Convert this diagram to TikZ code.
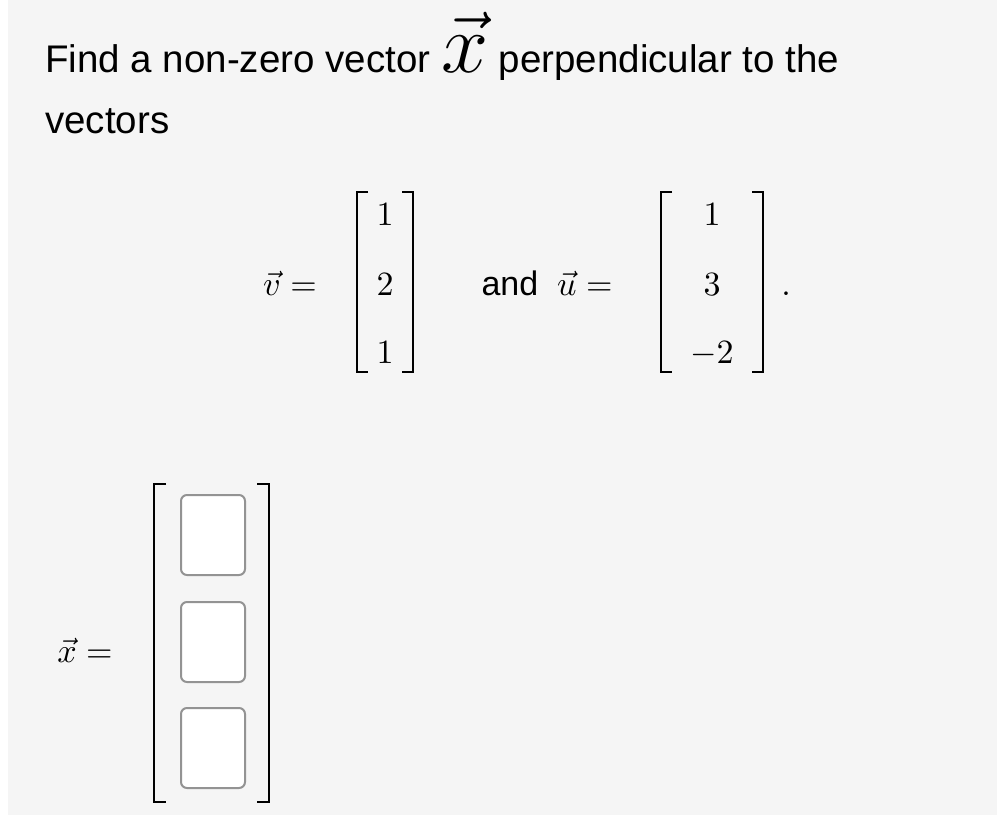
\documentclass[tikz,border=0pt]{standalone}
\usepackage{fontspec}
\usepackage{graphicx}
\setmainfont{Liberation Sans}
\newcommand{\mybigmath}[1]{\scalebox{3.4}{$#1$}}
\begin{document}
\begin{tikzpicture}[x=1pt,y=-1pt,
  txt/.style={anchor=base west,inner sep=0pt,font=\fontsize{38.5}{44}\selectfont},
  mth/.style={anchor=base,inner sep=0pt},
  brk/.style={line width=2.2pt},
  ibox/.style={draw=gray!85,line width=2pt,rounded corners=6pt,fill=white}]
\fill[white] (0,0) rectangle (997,825);
\fill[black!4] (8,0) rectangle (997,815);
\useasboundingbox (0,0) rectangle (997,825);
\node[txt] (l1) at (45,72) {Find a non-zero vector \mybigmath{\vec{x}} perpendicular to the};
\node[txt] (l2) at (45,133) {vectors};
% v
\node[mth] (v) at (290,295) {\mybigmath{\vec{v}=}};
\draw[brk] (368,192) -- (357,192) -- (357,372) -- (368,372);
\draw[brk] (402,192) -- (413,192) -- (413,372) -- (402,372);
\node[mth] (v1) at (385,225) {\mybigmath{1}};
\node[mth] (v2) at (385,295) {\mybigmath{2}};
\node[mth] (v3) at (385,363) {\mybigmath{1}};
\node[mth] (and) at (547,295) {\mybigmath{\mathrm{and}\ \ \vec{u}=}};
\draw[brk] (672,192) -- (661,192) -- (661,372) -- (672,372);
\draw[brk] (752,192) -- (763,192) -- (763,372) -- (752,372);
\node[mth] (u1) at (712,225) {\mybigmath{1}};
\node[mth] (u2) at (712,295) {\mybigmath{3}};
\node[mth] (u3) at (712,363) {\mybigmath{-2}};
\node[mth] (dot) at (786,295) {\mybigmath{.}};
% x
\node[mth] (x) at (85,662) {\mybigmath{\vec{x}=}};
\draw[brk] (166,484) -- (154,484) -- (154,802) -- (166,802);
\draw[brk] (257,484) -- (269,484) -- (269,802) -- (257,802);
\node[ibox,minimum width=64pt,minimum height=80pt] (b1) at (213,535) {};
\node[ibox,minimum width=64pt,minimum height=80pt] (b2) at (213,642) {};
\node[ibox,minimum width=64pt,minimum height=80pt] (b3) at (213,748) {};
\end{tikzpicture}
\end{document}
